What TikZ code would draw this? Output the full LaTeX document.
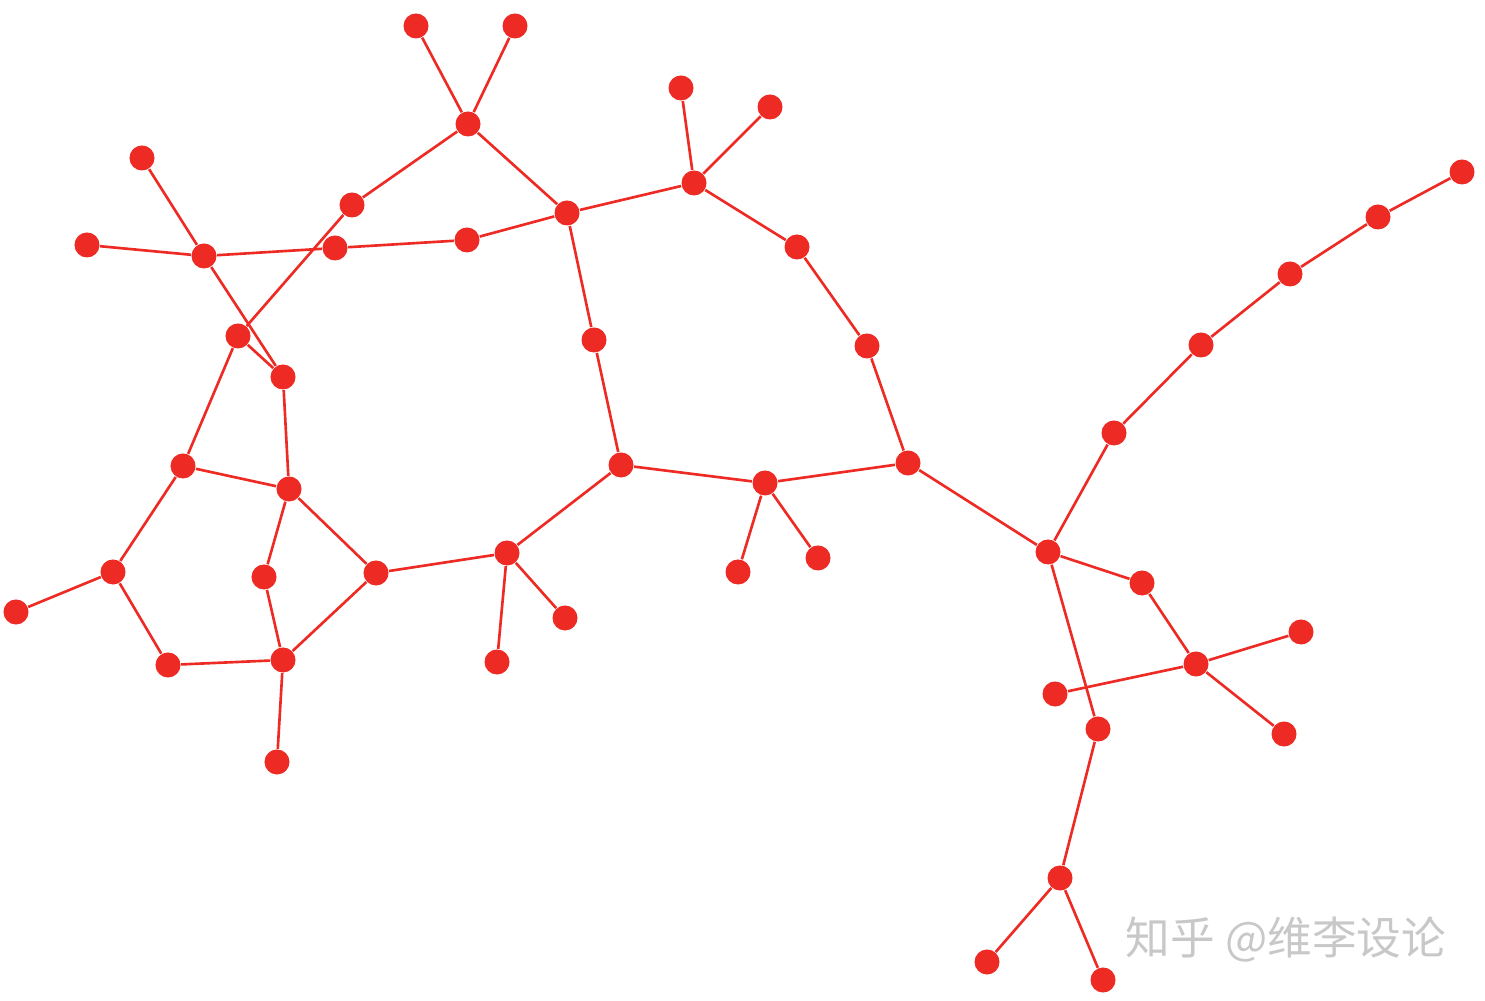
\documentclass[tikz,border=0pt]{standalone}
\usepackage{fontspec}
\newfontfamily\cjk{Noto Sans CJK SC}
\definecolor{netred}{RGB}{238,42,36}
\definecolor{markgray}{RGB}{200,200,200}
\tikzset{
  vtx/.style={circle, fill=netred, draw=none, inner sep=0pt, minimum size=0.25cm},
  link/.style={draw=netred, line width=0.75pt}
}
\begin{document}
\begin{tikzpicture}[x=0.01cm, y=-0.01cm]

    \useasboundingbox (0,0) rectangle (1485,1001);

    % Top hub
    \node[vtx] (t1) at (416, 26) {};
    \node[vtx] (t2) at (515, 26) {};
    \node[vtx] (th) at (468, 124) {};
    \node[vtx] (a) at (352, 205) {};
    \node[vtx] (b) at (567, 213) {};

    % Left hub
    \node[vtx] (l1) at (142, 158) {};
    \node[vtx] (l2) at (87, 245) {};
    \node[vtx] (lh) at (204, 256) {};
    \node[vtx] (m1) at (335, 248) {};
    \node[vtx] (m2) at (467, 240) {};

    % Left rings
    \node[vtx] (p) at (238, 336) {};
    \node[vtx] (q) at (283, 377) {};
    \node[vtx] (r) at (183, 466) {};
    \node[vtx] (s) at (289, 489) {};
    \node[vtx] (u) at (113, 572) {};
    \node[vtx] (u1) at (16, 612) {};
    \node[vtx] (v) at (168, 665) {};
    \node[vtx] (w) at (283, 660) {};
    \node[vtx] (w1) at (277, 762) {};
    \node[vtx] (x) at (264, 577) {};
    \node[vtx] (h) at (376, 573) {};

    % Upper right ring
    \node[vtx] (c) at (694, 183) {};
    \node[vtx] (c1) at (681, 88) {};
    \node[vtx] (c2) at (770, 107) {};
    \node[vtx] (d1) at (797, 247) {};
    \node[vtx] (d2) at (867, 346) {};
    \node[vtx] (d) at (908, 463) {};
    \node[vtx] (e1) at (594, 340) {};
    \node[vtx] (e) at (621, 465) {};
    \node[vtx] (f) at (765, 483) {};
    \node[vtx] (f1) at (738, 572) {};
    \node[vtx] (f2) at (818, 558) {};
    \node[vtx] (g) at (507, 553) {};
    \node[vtx] (g1) at (497, 662) {};
    \node[vtx] (g2) at (565, 618) {};

    % Right side
    \node[vtx] (k) at (1048, 552) {};
    \node[vtx] (k1) at (1114, 433) {};
    \node[vtx] (k2) at (1201, 345) {};
    \node[vtx] (k3) at (1290, 274) {};
    \node[vtx] (k4) at (1378, 217) {};
    \node[vtx] (k5) at (1462, 172) {};
    \node[vtx] (n1) at (1142, 583) {};
    \node[vtx] (n) at (1196, 664) {};
    \node[vtx] (n2) at (1301, 632) {};
    \node[vtx] (n3) at (1284, 734) {};
    \node[vtx] (n4) at (1055, 694) {};
    \node[vtx] (o1) at (1098, 729) {};
    \node[vtx] (o) at (1060, 878) {};
    \node[vtx] (o2) at (987, 962) {};
    \node[vtx] (o3) at (1103, 980) {};

    % Watermark
    \node[text=markgray, inner sep=0pt] (wm) at (1286, 940)
      {\cjk\fontsize{12.7}{13}\selectfont 知乎 @维李设论};

    % Connect top hub
    \draw[link] (th) -- (t1);
    \draw[link] (th) -- (t2);
    \draw[link] (th) -- (a);
    \draw[link] (th) -- (b);

    % Connect left hub
    \draw[link] (lh) -- (l1);
    \draw[link] (lh) -- (l2);
    \draw[link] (lh) -- (m1);
    \draw[link] (m1) -- (m2);
    \draw[link] (m2) -- (b);
    \draw[link] (lh) -- (q);

    % Connect left rings
    \draw[link] (a) -- (p);
    \draw[link] (p) -- (q);
    \draw[link] (p) -- (r);
    \draw[link] (q) -- (s);
    \draw[link] (r) -- (s);
    \draw[link] (r) -- (u);
    \draw[link] (u) -- (u1);
    \draw[link] (u) -- (v);
    \draw[link] (v) -- (w);
    \draw[link] (w) -- (w1);
    \draw[link] (s) -- (x);
    \draw[link] (x) -- (w);
    \draw[link] (s) -- (h);
    \draw[link] (h) -- (w);

    % Connect upper right ring
    \draw[link] (b) -- (c);
    \draw[link] (c) -- (c1);
    \draw[link] (c) -- (c2);
    \draw[link] (c) -- (d1);
    \draw[link] (d1) -- (d2);
    \draw[link] (d2) -- (d);
    \draw[link] (b) -- (e1);
    \draw[link] (e1) -- (e);
    \draw[link] (e) -- (f);
    \draw[link] (f) -- (d);
    \draw[link] (f) -- (f1);
    \draw[link] (f) -- (f2);
    \draw[link] (e) -- (g);
    \draw[link] (g) -- (h);
    \draw[link] (g) -- (g1);
    \draw[link] (g) -- (g2);

    % Connect right side
    \draw[link] (d) -- (k);
    \draw[link] (k) -- (k1);
    \draw[link] (k1) -- (k2);
    \draw[link] (k2) -- (k3);
    \draw[link] (k3) -- (k4);
    \draw[link] (k4) -- (k5);
    \draw[link] (k) -- (n1);
    \draw[link] (n1) -- (n);
    \draw[link] (n) -- (n2);
    \draw[link] (n) -- (n3);
    \draw[link] (n) -- (n4);
    \draw[link] (k) -- (o1);
    \draw[link] (o1) -- (o);
    \draw[link] (o) -- (o2);
    \draw[link] (o) -- (o3);

\end{tikzpicture}
\end{document}
